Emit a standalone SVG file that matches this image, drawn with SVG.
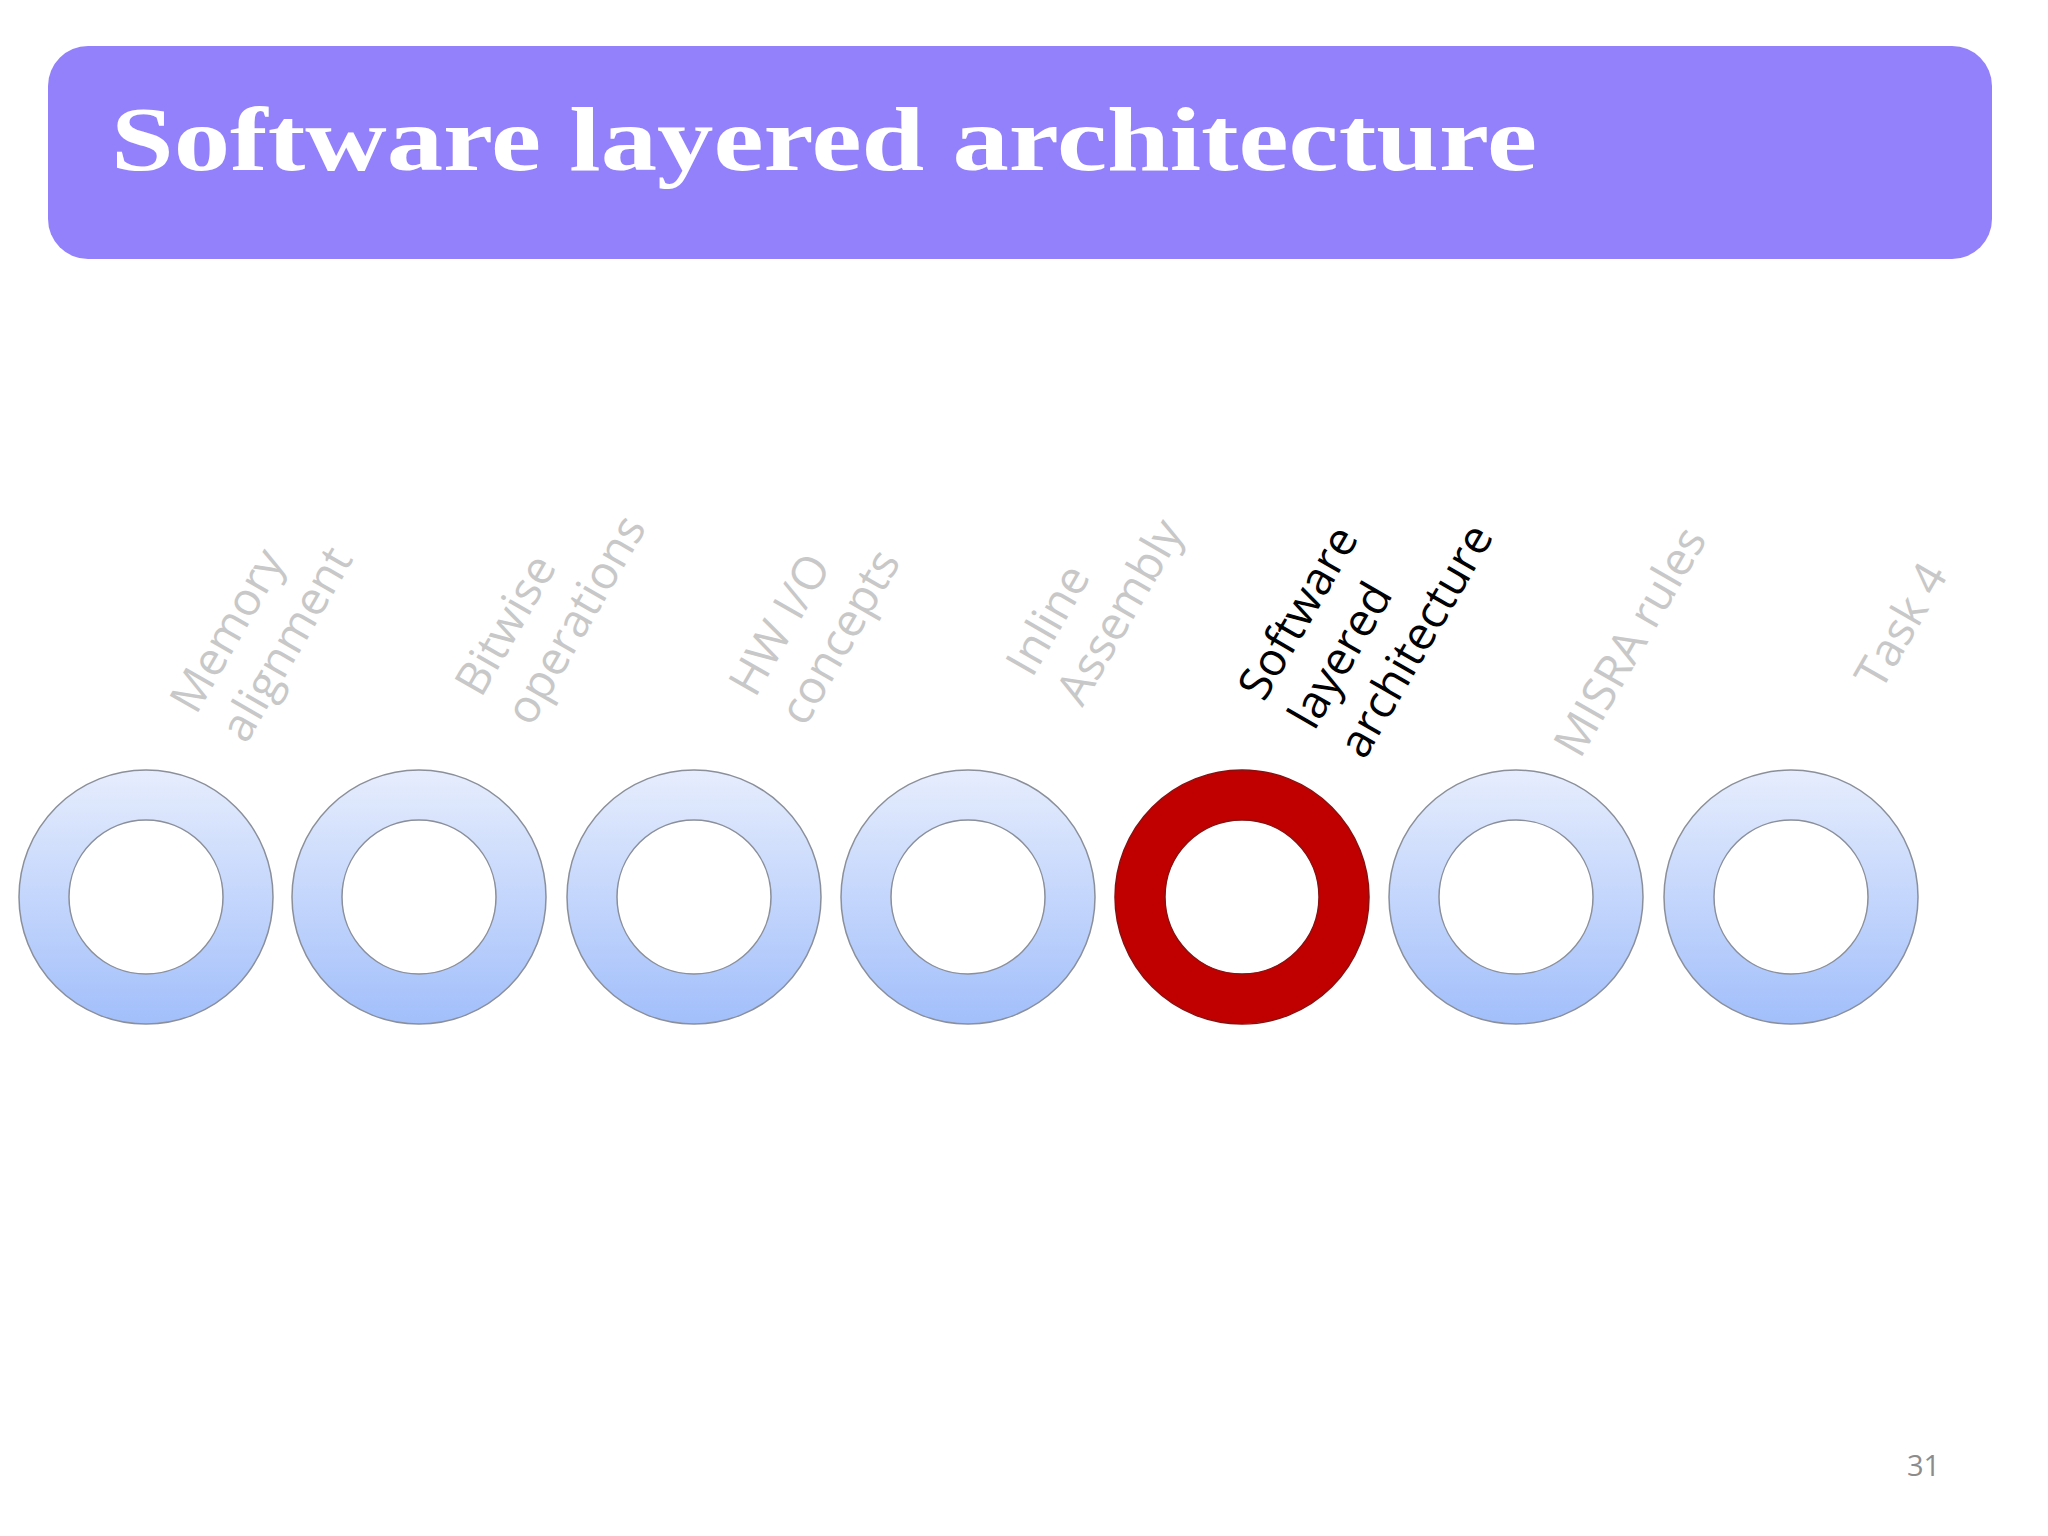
<svg xmlns="http://www.w3.org/2000/svg" width="2048" height="1536" viewBox="0 0 2048 1536">
<defs>
<linearGradient id="g" x1="0" y1="0" x2="0" y2="1"><stop offset="0" stop-color="#e6edfd"/><stop offset="1" stop-color="#a2bffb"/></linearGradient>
<style>
.ring{fill:url(#g);stroke:#8a8f9a;stroke-width:1.5;fill-rule:evenodd}
.red{fill:#c00000;stroke:#8a1010;stroke-width:1.5;fill-rule:evenodd}
.lbl{font-family:"Open Sans","Liberation Sans",sans-serif;font-size:46px;fill:#c8c8c8}
.cur{fill:#000}
</style>
</defs>
<rect width="2048" height="1536" fill="#fff"/>
<g id="title"><rect x="48" y="46" width="1944" height="213" rx="40" fill="#9380fb"/>
<text x="111" y="170" font-family="'Liberation Serif','DejaVu Serif',serif" font-weight="bold" font-size="92" fill="#fff" textLength="1426" lengthAdjust="spacingAndGlyphs">Software layered architecture</text></g>
<g id="nodes">
<g id="n1"><path class="ring" d="M19,897a127,127 0 1,0 254,0a127,127 0 1,0 -254,0ZM69,897a77,77 0 1,0 154,0a77,77 0 1,0 -154,0Z"/>
<text class="lbl" transform="translate(196,716) rotate(-60)"><tspan x="0">Memory</tspan><tspan x="0" dy="58">alignment</tspan></text></g>
<g id="n2"><path class="ring" d="M292,897a127,127 0 1,0 254,0a127,127 0 1,0 -254,0ZM342,897a77,77 0 1,0 154,0a77,77 0 1,0 -154,0Z"/>
<text class="lbl" transform="translate(481,699) rotate(-60)"><tspan x="0">Bitwise</tspan><tspan x="0" dy="58">operations</tspan></text></g>
<g id="n3"><path class="ring" d="M567,897a127,127 0 1,0 254,0a127,127 0 1,0 -254,0ZM617,897a77,77 0 1,0 154,0a77,77 0 1,0 -154,0Z"/>
<text class="lbl" transform="translate(755,699) rotate(-60)"><tspan x="0">HW I/O</tspan><tspan x="0" dy="58">concepts</tspan></text></g>
<g id="n4"><path class="ring" d="M841,897a127,127 0 1,0 254,0a127,127 0 1,0 -254,0ZM891,897a77,77 0 1,0 154,0a77,77 0 1,0 -154,0Z"/>
<text class="lbl" transform="translate(1032,679) rotate(-60)"><tspan x="0">Inline</tspan><tspan x="0" dy="58">Assembly</tspan></text></g>
<g id="n5"><path class="red" d="M1115,897a127,127 0 1,0 254,0a127,127 0 1,0 -254,0ZM1165,897a77,77 0 1,0 154,0a77,77 0 1,0 -154,0Z"/>
<text class="lbl cur" transform="translate(1264,703) rotate(-60)"><tspan x="0">Software</tspan><tspan x="0" dy="58">layered</tspan><tspan x="0" dy="58">architecture</tspan></text></g>
<g id="n6"><path class="ring" d="M1389,897a127,127 0 1,0 254,0a127,127 0 1,0 -254,0ZM1439,897a77,77 0 1,0 154,0a77,77 0 1,0 -154,0Z"/>
<text class="lbl" transform="translate(1580,760) rotate(-60)">MISRA rules</text></g>
<g id="n7"><path class="ring" d="M1664,897a127,127 0 1,0 254,0a127,127 0 1,0 -254,0ZM1714,897a77,77 0 1,0 154,0a77,77 0 1,0 -154,0Z"/>
<text class="lbl" transform="translate(1881,692) rotate(-60)">Task 4</text></g>
</g>
<g id="connectors"/>
<text x="1907" y="1476" font-family="'Open Sans','Liberation Sans',sans-serif" font-size="29" fill="#8c8c8c">31</text>
</svg>
